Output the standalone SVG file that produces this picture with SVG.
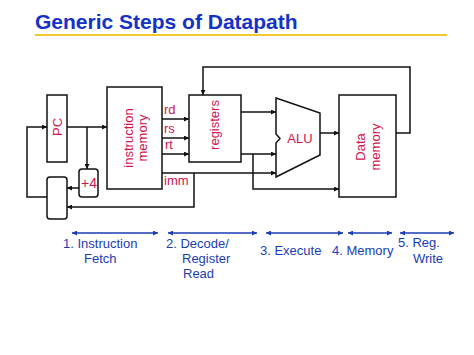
<svg xmlns="http://www.w3.org/2000/svg" width="474" height="355" viewBox="0 0 474 355">
<style>
.box{fill:#fff;stroke:#111;stroke-width:1.5}
.w{fill:none;stroke:#111;stroke-width:1.5}
.lbl{font-family:"Liberation Sans",Arial,sans-serif;font-size:13px;fill:#d0144e}
.stg{font-family:"Liberation Sans",Arial,sans-serif;font-size:13px;fill:#1a3cb4}
.sa{fill:none;stroke:#1a3cb4;stroke-width:1.5}
</style>
<defs>
<marker id="ah" viewBox="0 0 10 10" refX="10" refY="5" markerWidth="5" markerHeight="5" orient="auto" markerUnits="userSpaceOnUse"><path d="M0,0 L10,5 L0,10 z" fill="#111"/></marker>
<marker id="bh" viewBox="0 0 10 10" refX="10" refY="5" markerWidth="5" markerHeight="5" orient="auto-start-reverse" markerUnits="userSpaceOnUse"><path d="M0,0 L10,5 L0,10 z" fill="#1a3cb4"/></marker>
</defs>
<rect width="474" height="355" fill="#fff"/>
<g id="title">
<text x="35" y="29" font-family="Liberation Sans,Arial,sans-serif" font-size="21" font-weight="bold" fill="#1432c8">Generic Steps of Datapath</text>
<line x1="35" y1="35" x2="447" y2="35" stroke="#f2c82c" stroke-width="2.2"/>
</g>
<g id="connectors">
<path class="w" d="M67,127 H107" marker-end="url(#ah)"/>
<path class="w" d="M87,127 V169" marker-end="url(#ah)"/>
<path class="w" d="M79,188 H67" marker-end="url(#ah)"/>
<path class="w" d="M47,197 H27 V127 H47" marker-end="url(#ah)"/>
<path class="w" d="M162,119 H189" marker-end="url(#ah)"/>
<path class="w" d="M162,138 H189" marker-end="url(#ah)"/>
<path class="w" d="M162,154 H189" marker-end="url(#ah)"/>
<path class="w" d="M162,173 H276" marker-end="url(#ah)"/>
<path class="w" d="M194,173 V207 H67" marker-end="url(#ah)"/>
<path class="w" d="M241,112 H276" marker-end="url(#ah)"/>
<path class="w" d="M241,154 H276" marker-end="url(#ah)"/>
<path class="w" d="M253,154 V189 H339" marker-end="url(#ah)"/>
<path class="w" d="M320,133 H339" marker-end="url(#ah)"/>
<path class="w" d="M396,133 H410 V67 H203 V95" marker-end="url(#ah)"/>
</g>
<g id="pc">
<rect class="box" x="47" y="95" width="20" height="67"/>
<text class="lbl" text-anchor="middle" transform="translate(62,127) rotate(-90)">PC</text>
</g>
<g id="plus4">
<rect class="box" x="79" y="169" width="19" height="28" rx="3"/>
<text class="lbl" x="89" y="188" text-anchor="middle" style="font-size:14px">+4</text>
</g>
<g id="mux">
<rect class="box" x="47" y="177" width="20" height="42" rx="3"/>
</g>
<g id="imem">
<rect class="box" x="107" y="87" width="55" height="102"/>
<text class="lbl" text-anchor="middle" transform="translate(133,138) rotate(-90)">instruction</text>
<text class="lbl" text-anchor="middle" transform="translate(147,138) rotate(-90)">memory</text>
<text class="lbl" x="164" y="114">rd</text>
<text class="lbl" x="164" y="133">rs</text>
<text class="lbl" x="165" y="149">rt</text>
<text class="lbl" x="164" y="185">imm</text>
</g>
<g id="registers">
<rect class="box" x="189" y="95" width="52" height="67"/>
<text class="lbl" text-anchor="middle" transform="translate(219,125) rotate(-90)">registers</text>
</g>
<g id="alu">
<path class="box" d="M276,98 L320,113 L320,155 L276,177 L276,143 L280,138.5 L276,134 Z"/>
<text class="lbl" x="300" y="143" text-anchor="middle">ALU</text>
</g>
<g id="dmem">
<rect class="box" x="339" y="95" width="57" height="102"/>
<text class="lbl" text-anchor="middle" transform="translate(365,147) rotate(-90)">Data</text>
<text class="lbl" text-anchor="middle" transform="translate(380,147) rotate(-90)">memory</text>
</g>
<g id="stages">
<line class="sa" x1="72" y1="233" x2="158" y2="233" marker-start="url(#bh)" marker-end="url(#bh)"/>
<line class="sa" x1="168" y1="233" x2="257" y2="233" marker-start="url(#bh)" marker-end="url(#bh)"/>
<line class="sa" x1="266" y1="233" x2="343" y2="233" marker-start="url(#bh)" marker-end="url(#bh)"/>
<line class="sa" x1="348" y1="233" x2="392" y2="233" marker-start="url(#bh)" marker-end="url(#bh)"/>
<line class="sa" x1="400" y1="233" x2="454" y2="233" marker-start="url(#bh)" marker-end="url(#bh)"/>
<text class="stg" x="63" y="248">1. Instruction</text>
<text class="stg" x="84" y="263">Fetch</text>
<text class="stg" x="166" y="248">2. Decode/</text>
<text class="stg" x="182" y="263">Register</text>
<text class="stg" x="183" y="278">Read</text>
<text class="stg" x="260" y="255">3. Execute</text>
<text class="stg" x="332" y="255">4. Memory</text>
<text class="stg" x="398" y="247">5. Reg.</text>
<text class="stg" x="413" y="263">Write</text>
</g>
</svg>
